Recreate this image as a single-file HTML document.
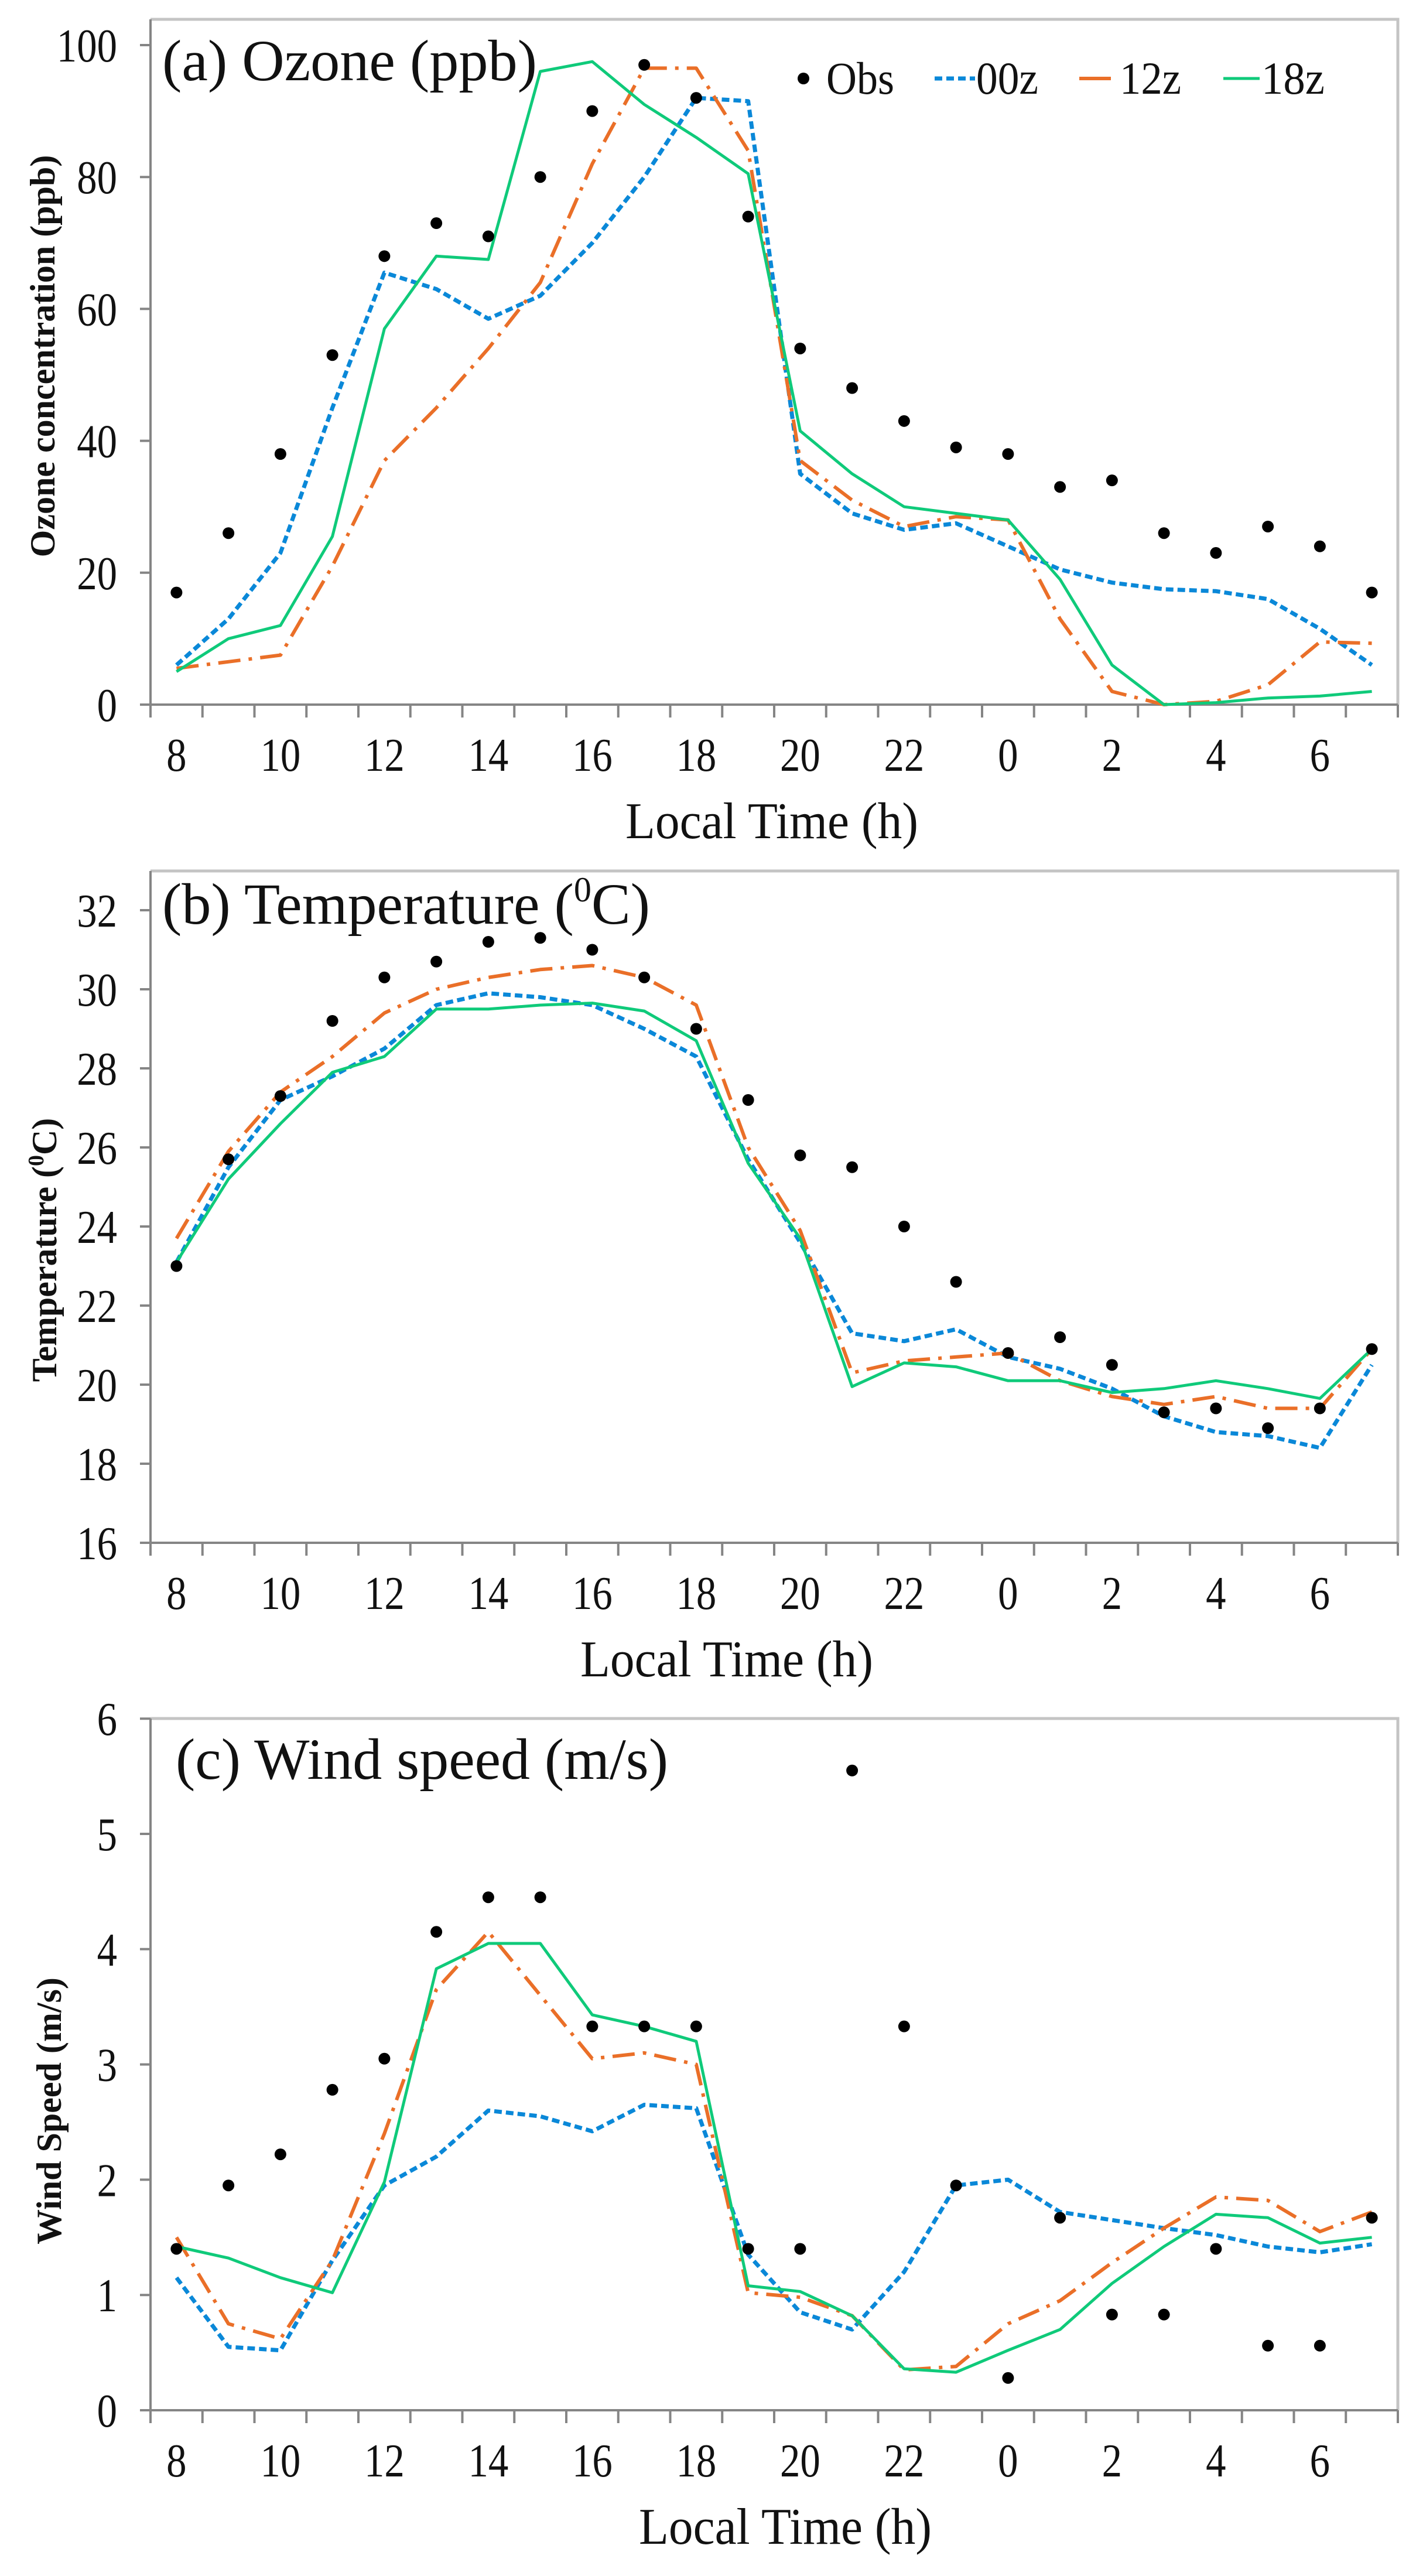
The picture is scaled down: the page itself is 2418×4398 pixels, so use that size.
<!DOCTYPE html>
<html><head><meta charset="utf-8"><style>
html,body{margin:0;padding:0;background:#fff;}
svg{display:block;}
text{font-family:"Liberation Serif",serif;fill:#111;}
</style></head><body>
<svg id="s" width="2418" height="4398" viewBox="0 0 2418 4398" xmlns="http://www.w3.org/2000/svg"></svg>
<script>
const S=document.getElementById('s');let h='';
const X0=257,X1=2387,ST=(X1-X0)/24;
const px=i=>X0+(i+0.5)*ST;
const labs=['8','10','12','14','16','18','20','22','0','2','4','6'];
function tx(x,y,fs,anchor,t){return `<text transform="translate(${x},${y}) scale(0.86,1)" font-size="${fs}" text-anchor="${anchor}">${t}</text>`;}
function panel(o){
 const {top,bot,ymap,yt,ytl,data,title,ylab,ylabY,ylabX,xlabX,xlabW}=o;
 h+=`<polyline points="${X0},${top} ${X1},${top} ${X1},${bot}" fill="none" stroke="#c4c4c4" stroke-width="5"/>`;
 h+=`<line x1="${X0}" y1="${top}" x2="${X0}" y2="${bot+22}" stroke="#858585" stroke-width="4"/>`;
 h+=`<line x1="${X0-16}" y1="${bot}" x2="${X1}" y2="${bot}" stroke="#858585" stroke-width="4"/>`;
 for(let i=0;i<=24;i++){const x=X0+i*ST;h+=`<line x1="${x}" y1="${bot}" x2="${x}" y2="${bot+22}" stroke="#858585" stroke-width="4"/>`;}
 yt.forEach((v,k)=>{const y=ymap(v);h+=`<line x1="${X0-18}" y1="${y}" x2="${X0}" y2="${y}" stroke="#858585" stroke-width="4"/>`;
  h+=tx(200,y+28,80,'end',ytl[k]);});
 labs.forEach((l,k)=>{h+=tx(px(2*k),bot+113,80,'middle',l);});
 h+=`<text x="${xlabX}" y="${bot+228}" font-size="88" text-anchor="middle" textLength="${xlabW}" lengthAdjust="spacingAndGlyphs">Local Time (h)</text>`;
 h+=title;
 h+=`<text transform="translate(${ylabX},${ylabY}) rotate(-90)" font-size="60" font-weight="bold" text-anchor="middle">${ylab}</text>`;
 const line=(d,c,w,da)=>{h+=`<polyline points="${d.map((v,i)=>px(i).toFixed(1)+','+ymap(v).toFixed(1)).join(' ')}" fill="none" stroke="${c}" stroke-width="${w}" stroke-dasharray="${da}" stroke-linejoin="round"/>`;};
 line(data[1],'#0a88d8',7,'13,7');
 line(data[2],'#ea6f28',6,'38,14,6,14');
 line(data[3],'#0fca7a',5,'');
 data[0].forEach((v,i)=>{h+=`<circle cx="${px(i)}" cy="${ymap(v)}" r="10" fill="#000"/>`;});
}
panel({top:33,bot:1203,ymap:v=>1203-v*11.26,yt:[0,20,40,60,80,100],ytl:['0','20','40','60','80','100'],
 data:[[17,26,38,53,68,73,71,80,90,97,92,74,54,48,43,39,38,33,34,26,23,27,24,17],
 [6,13,23,45,65.5,63,58.5,62,70,80,92,91.5,35,29,26.5,27.5,24,20.5,18.5,17.5,17.2,16,11.5,6],
 [5.5,6.5,7.5,21,37,45,54,64,82,96.5,96.5,84,37,31,27,28.5,28,13,2,0,0.5,3,9.5,9.3],
 [5,10,12,25.5,57,68,67.5,96,97.5,91,86,80.5,41.5,35,30,29,28,19,6,0,0.3,1,1.3,2]],
 title:`<text x="277" y="137" font-size="100" textLength="640" lengthAdjust="spacingAndGlyphs">(a) Ozone (ppb)</text>
 <circle cx="1372" cy="134" r="10" fill="#000"/><text x="1411" y="160" font-size="78" textLength="116" lengthAdjust="spacingAndGlyphs">Obs</text>
 <line x1="1596" y1="134" x2="1665" y2="134" stroke="#0a88d8" stroke-width="7" stroke-dasharray="13,7"/><text x="1667" y="160" font-size="78" textLength="106" lengthAdjust="spacingAndGlyphs">00z</text>
 <line x1="1843" y1="134" x2="1897" y2="134" stroke="#ea6f28" stroke-width="6"/><text x="1912" y="160" font-size="78" textLength="105" lengthAdjust="spacingAndGlyphs">12z</text>
 <line x1="2089" y1="134" x2="2151" y2="134" stroke="#0fca7a" stroke-width="5"/><text x="2154" y="160" font-size="78" textLength="108" lengthAdjust="spacingAndGlyphs">18z</text>`,
 ylab:'Ozone concentration (ppb)',ylabX:93,ylabY:608,xlabX:1318,xlabW:500});
panel({top:1487,bot:2634,ymap:v=>2634-(v-16)*67.5,yt:[16,18,20,22,24,26,28,30,32],ytl:['16','18','20','22','24','26','28','30','32'],
 data:[[23.0,25.7,27.3,29.2,30.3,30.7,31.2,31.3,31.0,30.3,29.0,27.2,25.8,25.5,24.0,22.6,20.8,21.2,20.5,19.3,19.4,18.9,19.4,20.9],
 [23.1,25.5,27.2,27.8,28.5,29.6,29.9,29.8,29.6,29.0,28.3,25.7,23.6,21.3,21.1,21.4,20.7,20.4,19.9,19.2,18.8,18.7,18.4,20.5],
 [23.7,25.9,27.4,28.3,29.4,30.0,30.3,30.5,30.6,30.3,29.6,26.0,23.9,20.3,20.6,20.7,20.8,20.1,19.7,19.5,19.7,19.4,19.4,20.9],
 [23.1,25.2,26.6,27.9,28.3,29.5,29.5,29.6,29.65,29.45,28.7,25.6,23.7,19.95,20.55,20.45,20.1,20.1,19.8,19.9,20.1,19.9,19.65,20.9]],
 title:`<text x="277" y="1577" font-size="100" textLength="833" lengthAdjust="spacingAndGlyphs">(b) Temperature (<tspan font-size="60" dy="-38">0</tspan><tspan dy="38">C)</tspan></text>`,
 ylab:'Temperature (<tspan font-size="38" dy="-22">0</tspan><tspan dy="22">C)</tspan>',ylabX:96,ylabY:2134,xlabX:1241,xlabW:500});
panel({top:2934,bot:4115,ymap:v=>4115-v*196.8,yt:[0,1,2,3,4,5,6],ytl:['0','1','2','3','4','5','6'],
 data:[[1.4,1.95,2.22,2.78,3.05,4.15,4.45,4.45,3.33,3.33,3.33,1.4,1.4,5.55,3.33,1.95,0.28,1.67,0.83,0.83,1.4,0.56,0.56,1.67],
 [1.15,0.55,0.52,1.3,1.95,2.2,2.6,2.55,2.42,2.65,2.62,1.35,0.85,0.7,1.2,1.95,2.0,1.72,1.65,1.58,1.52,1.42,1.37,1.44],
 [1.5,0.75,0.62,1.3,2.4,3.65,4.15,3.6,3.05,3.1,3.0,1.02,0.98,0.82,0.35,0.38,0.75,0.95,1.28,1.58,1.85,1.82,1.55,1.72],
 [1.42,1.32,1.15,1.02,1.98,3.83,4.05,4.05,3.43,3.33,3.2,1.08,1.03,0.82,0.36,0.33,0.52,0.7,1.1,1.42,1.7,1.67,1.45,1.5]],
 title:`<text x="300" y="3037" font-size="100" textLength="841" lengthAdjust="spacingAndGlyphs">(c) Wind speed (m/s)</text>`,
 ylab:'Wind Speed (m/s)',ylabX:104,ylabY:3604,xlabX:1341,xlabW:500});
S.innerHTML=h;
</script>
</body></html>
